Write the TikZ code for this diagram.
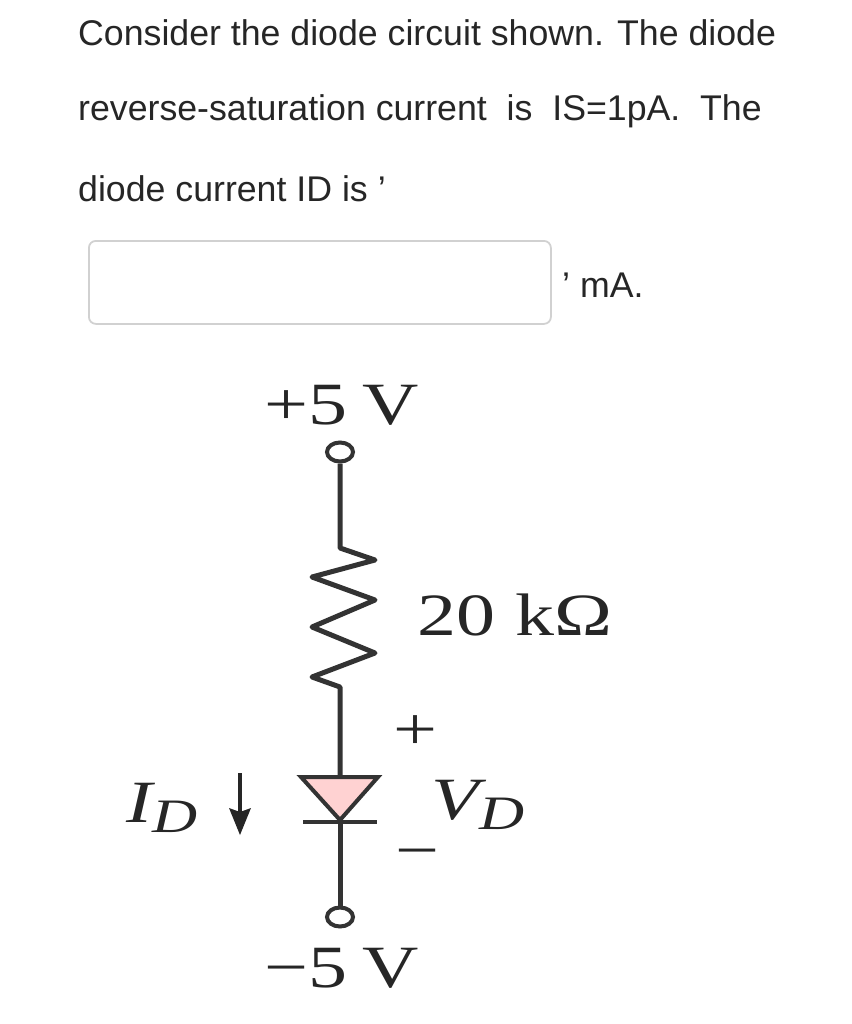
\documentclass[tikz,border=0pt]{standalone}
\usepackage{fontspec}
\usetikzlibrary{shapes.geometric,arrows.meta}
\setmainfont{Liberation Sans}
\newfontfamily\ckt[FakeStretch=1.3]{Liberation Serif}
\newcommand{\subD}{\raisebox{-0.35ex}{\fontsize{48}{50}\selectfont D}}
\begin{document}
\begin{tikzpicture}[x=1pt,y=-1pt,
  txt/.style={anchor=west,inner sep=0pt,font=\fontsize{35.7}{40}\selectfont,text=black!85},
  ck/.style={inner sep=0pt,font=\ckt\fontsize{60}{64}\selectfont,text=black!85},
  wire/.style={line width=5pt,black!80},
  term/.style={draw=black!80,line width=4pt,ellipse,minimum width=26pt,minimum height=19pt,inner sep=0pt}]
\useasboundingbox (0,0) rectangle (851,1024);
\node[txt] (l1) at (78,33) {Consider the diode circuit shown. The diode};
\node[txt] (l2) at (78,111) {reverse-saturation current\ \ is\ \ IS=1pA.\ \ The};
\node[txt] (l3) at (78,189) {diode current ID is '};
\node[draw=black!18,line width=1.8pt,rounded corners=7pt,minimum width=462pt,minimum height=83pt,anchor=north west] (box) at (88,240) {};
\node[txt] (ma) at (562,285) {' mA.};
\node[ck] (vp) at (342,405) {+5\hspace{0.25em}V};
\node[ck] (vm) at (342,968) {−5\hspace{0.25em}V};
\node[term] (t1) at (340,452) {};
\node[term] (t2) at (340,917) {};
\coordinate (r1) at (340,548);
\coordinate (r2) at (340,687);
\coordinate (d1) at (340,777);
\coordinate (d2) at (340,822);
\draw[wire,line join=round] (t1) -- (r1) -- (375,560) -- (312,577) -- (375,600) -- (312,627) -- (375,653) -- (312,677) -- (r2) -- (d1);
\draw[line width=4pt,black!80,fill=pink!70,line join=miter] (301,777) -- (378,777) -- (340,820) -- cycle;
\draw[line width=4pt,black!80] (303,822) -- (377,822);
\draw[wire] (d2) -- (t2);
\node[ck] (rl) at (515,615) {20 kΩ};
\node[ck] (pl) at (415,733) {+};
\node[ck] (mi) at (417,860) {−};
\node[ck] (vd) at (478,805) {\itshape V\subD};
\node[ck] (id) at (162,808) {\itshape I\subD};
\coordinate (a1) at (240,773);
\coordinate (a2) at (240,835);
\draw[line width=4pt,black!85] (a1) -- (240,815);
\fill[black!85] (229,808) -- (240,812) -- (251,808) -- (a2) -- cycle;
\end{tikzpicture}
\end{document}
